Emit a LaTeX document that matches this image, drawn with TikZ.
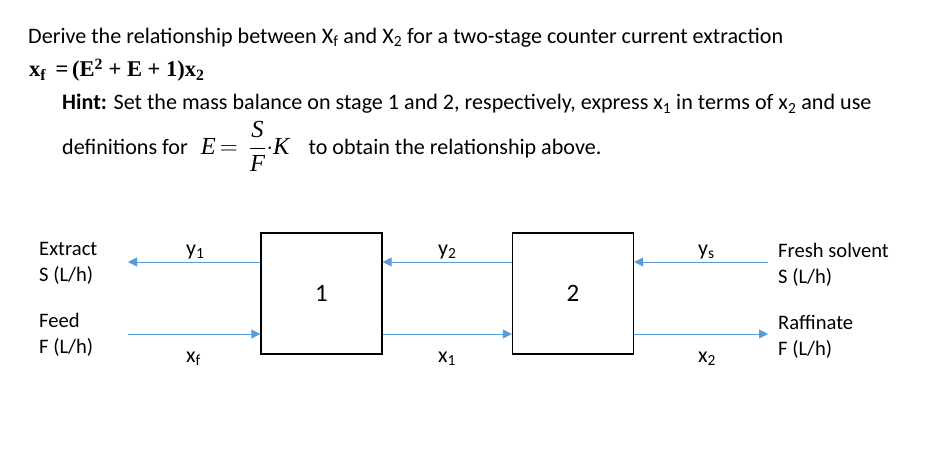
\documentclass[tikz,border=0pt]{standalone}
\usepackage{fontspec}
\setmainfont{Carlito}
\newfontfamily\tnr{Liberation Serif}
\usetikzlibrary{arrows.meta}
\definecolor{flowblue}{RGB}{91,155,213}
\tikzset{
	stage/.style={draw, line width=1.4pt, minimum size=121pt, inner sep=0pt, font=\fontsize{25}{28}\selectfont},
	flow/.style={draw=flowblue, line width=1pt, -{Triangle[length=9pt,width=9pt]}},
	txt/.style={anchor=base west, inner sep=0pt, font=\fontsize{22.1}{26}\selectfont},
	lbl/.style={anchor=base west, inner sep=0pt, font=\fontsize{20.6}{24}\selectfont},
	var/.style={anchor=base west, inner sep=0pt, font=\fontsize{22}{26}\selectfont},
}
\begin{document}
\begin{tikzpicture}[x=1pt, y=-1pt]
	\useasboundingbox (0,0) rectangle (929,452);

	\node[txt] (task) at (28,43.5) {Derive the relationship between X\textsubscript{f} and X\textsubscript{2} for a two-stage counter current extraction};
	\node[txt, font=\tnr\bfseries\fontsize{22.5}{26}\selectfont] (result) at (29,77) {x\textsubscript{f} \,=\,(E\textsuperscript{2} + E + 1)x\textsubscript{2}};
	\node[txt] (hint) at (62,110) {\textbf{Hint:} Set the mass balance on stage 1 and 2, respectively, express x\textsubscript{1} in terms of x\textsubscript{2} and use};
	\node[txt] (defs) at (62,154) {definitions for\hspace{13pt}{\fontsize{24.5}{28}\selectfont{\tnr\itshape E}$\,=\,\displaystyle\frac{\mbox{\tnr\itshape S}}{\mbox{\tnr\itshape F}}\cdot${\tnr\itshape K}}\hspace{19pt}to obtain the relationship above.};

	% stages
	\node[stage] (st1) at (321.5,293.5) {1};
	\node[stage] (st2) at (573,293.5) {2};

	% free ends
	\coordinate (ext) at (128,262);
	\coordinate (feed) at (128,334);
	\coordinate (fresh) at (768,262);
	\coordinate (raff) at (768,334);

	\draw[flow] (st1.west |- ext) -- (ext);
	\draw[flow] (feed) -- (st1.west |- feed);
	\draw[flow] (st2.west |- ext) -- (st1.east |- ext);
	\draw[flow] (st1.east |- feed) -- (st2.west |- feed);
	\draw[flow] (fresh) -- (st2.east |- fresh);
	\draw[flow] (st2.east |- raff) -- (raff);

	\node[lbl] (extract) at (39,255) {Extract};
	\node[lbl] (extractS) at (39,281) {S (L/h)};
	\node[lbl] (feedtxt) at (39,327) {Feed};
	\node[lbl] (feedF) at (39,353) {F (L/h)};
	\node[lbl] (solvent) at (778,257) {Fresh solvent};
	\node[lbl] (solventS) at (778,283) {S (L/h)};
	\node[lbl] (raffinate) at (778,329) {Raffinate};
	\node[lbl] (raffF) at (778,355) {F (L/h)};

	\node[var] (y1) at (186,255) {y\textsubscript{1}};
	\node[var] (xf) at (186,362) {x\textsubscript{f}};
	\node[var] (y2) at (438,255) {y\textsubscript{2}};
	\node[var] (x1) at (438,362) {x\textsubscript{1}};
	\node[var] (ys) at (698,255) {y\textsubscript{s}};
	\node[var] (x2) at (698,362) {x\textsubscript{2}};
\end{tikzpicture}
\end{document}
